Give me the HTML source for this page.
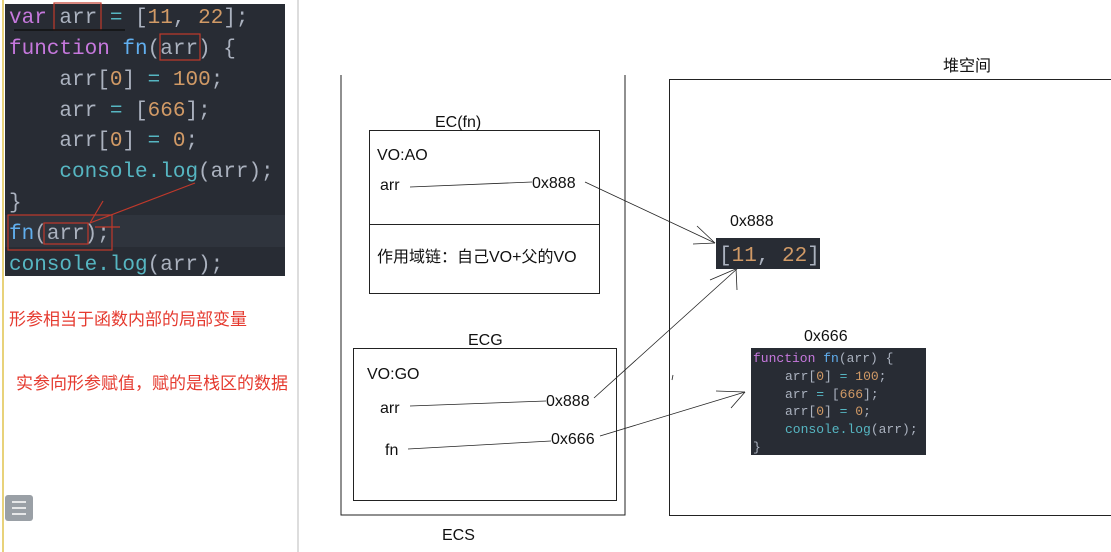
<!DOCTYPE html>
<html><head><meta charset="utf-8"><style>
html,body{margin:0;padding:0;background:#fff;width:1111px;height:552px;overflow:hidden}
svg{display:block}
.m{font-family:"Liberation Mono","DejaVu Sans Mono",monospace}
.s{font-family:"Liberation Sans","Noto Sans CJK SC",sans-serif}
</style></head><body>
<svg width="1111" height="552" xmlns="http://www.w3.org/2000/svg">
<rect x="0" y="0" width="1111" height="552" fill="#fff"/>
<line x1="3" y1="0" x2="3" y2="552" stroke="#e8d27a" stroke-width="2"/>
<line x1="298" y1="0" x2="298" y2="552" stroke="#bbb" stroke-width="1"/>
<rect x="5" y="4" width="280" height="272" fill="#282c34"/>
<rect x="5" y="215" width="280" height="32" fill="#2f343d"/>
<g class="m" font-size="21">
<text x="9" y="23"><tspan fill="#c678dd">var</tspan><tspan fill="#abb2bf"> arr </tspan><tspan fill="#56b6c2">=</tspan><tspan fill="#abb2bf"> [</tspan><tspan fill="#d19a66">11</tspan><tspan fill="#abb2bf">, </tspan><tspan fill="#d19a66">22</tspan><tspan fill="#abb2bf">];</tspan></text>
<text x="9" y="54"><tspan fill="#c678dd">function</tspan><tspan fill="#61afef"> fn</tspan><tspan fill="#abb2bf">(arr) {</tspan></text>
<text x="9" y="85" fill="#abb2bf" xml:space="preserve">    arr[<tspan fill="#d19a66">0</tspan>] <tspan fill="#56b6c2">=</tspan> <tspan fill="#d19a66">100</tspan>;</text>
<text x="9" y="116" fill="#abb2bf" xml:space="preserve">    arr <tspan fill="#56b6c2">=</tspan> [<tspan fill="#d19a66">666</tspan>];</text>
<text x="9" y="146" fill="#abb2bf" xml:space="preserve">    arr[<tspan fill="#d19a66">0</tspan>] <tspan fill="#56b6c2">=</tspan> <tspan fill="#d19a66">0</tspan>;</text>
<text x="9" y="177" fill="#abb2bf" xml:space="preserve">    <tspan fill="#56b6c2">console.log</tspan>(arr);</text>
<text x="9" y="208" fill="#abb2bf">}</text>
<text x="9" y="239" fill="#abb2bf"><tspan fill="#61afef">fn</tspan>(arr);</text>
<text x="9" y="270" fill="#abb2bf"><tspan fill="#56b6c2">console.log</tspan>(arr);</text>
</g>
<g fill="none" stroke="#c0392b" stroke-width="1.2">
<rect x="54" y="3" width="47" height="27"/>
<rect x="160" y="34" width="40" height="26"/>
<rect x="8" y="215" width="104" height="35"/>
<rect x="44" y="223" width="44" height="21"/>
<line x1="90" y1="223" x2="195" y2="183"/>
<line x1="90" y1="223" x2="103" y2="201"/>
<line x1="95" y1="227" x2="120" y2="227"/>
</g>
<line x1="14" y1="30" x2="125" y2="30" stroke="#111" stroke-width="1.5"/>
<text class="s" x="9" y="325" font-size="17" fill="#e53a2f">形参相当于函数内部的局部变量</text>
<text class="s" x="16" y="389" font-size="17" fill="#e53a2f">实参向形参赋值，赋的是栈区的数据</text>
<rect x="5" y="495" width="28" height="26" rx="3" fill="#9aa0a6"/>
<g stroke="#fff" stroke-width="1.5"><line x1="12" y1="502" x2="26" y2="502"/><line x1="12" y1="508" x2="26" y2="508"/><line x1="12" y1="514" x2="26" y2="514"/></g>
<g fill="none" stroke="#222" stroke-width="1">
<polyline points="341,75 341,515 625,515 625,75"/>
<rect x="369.5" y="130.5" width="230" height="163"/>
<line x1="369" y1="224.5" x2="599" y2="224.5"/>
<rect x="353.5" y="348.5" width="263" height="152"/>
<rect x="669.5" y="79.5" width="445" height="436"/>
</g>
<g class="s" font-size="16" fill="#111">
<text x="435" y="127">EC(fn)</text>
<text x="377" y="160">VO:AO</text>
<text x="380" y="190">arr</text>
<text x="532" y="188">0x888</text>
<text x="377" y="262" font-size="16">作用域链：自己VO+父的VO</text>
<text x="468" y="345">ECG</text>
<text x="367" y="379">VO:GO</text>
<text x="380" y="413">arr</text>
<text x="546" y="406">0x888</text>
<text x="385" y="455">fn</text>
<text x="551" y="444">0x666</text>
<text x="442" y="540">ECS</text>
<text x="943" y="71">堆空间</text>
<text x="730" y="226">0x888</text>
<text x="804" y="341">0x666</text>
</g>
<g stroke="#222" stroke-width="0.8" fill="none">
<line x1="410" y1="187" x2="532" y2="182"/>
<line x1="585" y1="182" x2="715" y2="243"/>
<line x1="697" y1="226" x2="715" y2="243"/><line x1="693" y1="244" x2="715" y2="243"/>
<line x1="410" y1="406" x2="546" y2="401"/>
<line x1="594" y1="398" x2="738" y2="268"/>
<line x1="710" y1="280" x2="738" y2="268"/><line x1="736" y1="268" x2="737" y2="290"/>
<line x1="408" y1="449" x2="551" y2="441"/>
<line x1="600" y1="436" x2="745" y2="392"/>
<line x1="716" y1="391" x2="745" y2="392"/><line x1="731" y1="408" x2="745" y2="392"/>
<line x1="673" y1="375" x2="672" y2="380"/>
</g>
<rect x="716" y="238" width="104" height="31" fill="#282c34"/>
<text class="m" x="719" y="261" font-size="21" fill="#abb2bf">[<tspan fill="#d19a66">11</tspan>, <tspan fill="#d19a66">22</tspan>]</text>
<rect x="751" y="348" width="175" height="107" fill="#282c34"/>
<g class="m" font-size="13" fill="#abb2bf">
<text x="753" y="362"><tspan fill="#c678dd">function</tspan><tspan fill="#61afef"> fn</tspan>(arr) {</text>
<text x="785" y="380">arr[<tspan fill="#d19a66">0</tspan>] <tspan fill="#56b6c2">=</tspan> <tspan fill="#d19a66">100</tspan>;</text>
<text x="785" y="398">arr <tspan fill="#56b6c2">=</tspan> [<tspan fill="#d19a66">666</tspan>];</text>
<text x="785" y="415">arr[<tspan fill="#d19a66">0</tspan>] <tspan fill="#56b6c2">=</tspan> <tspan fill="#d19a66">0</tspan>;</text>
<text x="785" y="433"><tspan fill="#56b6c2">console.log</tspan>(arr);</text>
<text x="753" y="451">}</text>
</g>
</svg>
</body></html>
